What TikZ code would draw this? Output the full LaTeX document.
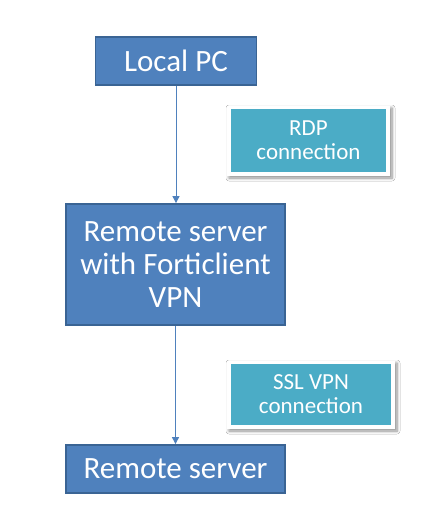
\documentclass[tikz,border=0pt]{standalone}
\usepackage{fontspec}
\setmainfont{Carlito}
\usetikzlibrary{arrows.meta,shadows.blur}
\definecolor{boxblue}{HTML}{4F81BD}
\definecolor{boxedge}{HTML}{3A6494}
\definecolor{teal}{HTML}{4BACC6}
\tikzset{
  bluebox/.style={draw=boxedge, line width=1.8pt, fill=boxblue, text=white, align=center, inner sep=0pt},
  card/.style={fill=white, draw=none, inner sep=0pt, blur shadow={shadow xshift=2pt, shadow yshift=-2.5pt, shadow blur steps=6, shadow blur radius=3pt, shadow opacity=45}},
  tealbox/.style={fill=teal, draw=none, text=white, align=center, inner sep=0pt},
  link/.style={draw=boxblue, line width=0.9pt, -{Triangle[width=7pt,length=7pt]}}
}
\begin{document}
\begin{tikzpicture}[x=1pt,y=-1pt]
\useasboundingbox[fill=white] (0,0) rectangle (440,528);
\node[bluebox, minimum width=161pt, minimum height=48pt, font=\fontsize{31}{33}\selectfont] (local) at (176,61) {Local PC};
\node[bluebox, minimum width=219pt, minimum height=121pt, font=\fontsize{31}{33}\selectfont] (forti) at (175.5,264.5) {Remote server\\with Forticlient\\VPN};
\node[bluebox, minimum width=219pt, minimum height=48pt, font=\fontsize{31}{33}\selectfont] (remote) at (175.5,469) {Remote server};
\node[card, minimum width=163pt, minimum height=70pt] (rdpcard) at (308.5,140.5) {};
\node[tealbox, minimum width=155pt, minimum height=63pt, font=\fontsize{23}{24}\selectfont] (rdp) at (rdpcard.center) {RDP\\connection};
\node[card, minimum width=168pt, minimum height=68pt] (sslcard) at (311,394.5) {};
\node[tealbox, minimum width=160pt, minimum height=61pt, font=\fontsize{23}{24}\selectfont] (ssl) at (sslcard.center) {SSL VPN\\connection};
\draw[link] (local.south) -- (local.south |- forti.north);
\draw[link] (forti.south) -- (remote.north);
\end{tikzpicture}
\end{document}
